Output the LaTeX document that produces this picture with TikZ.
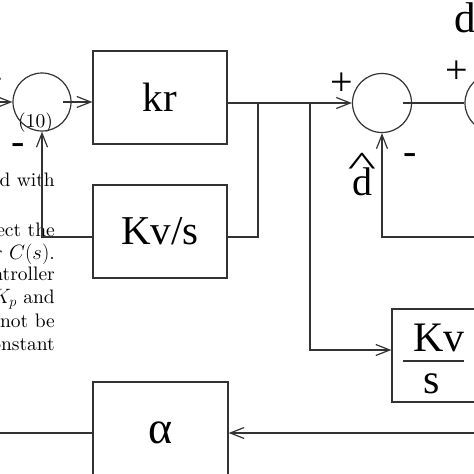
\documentclass[tikz,border=0pt]{standalone}
\usepackage{fontspec}
\newfontfamily\tnr{Liberation Serif}
\newfontfamily\bodyf{lmroman10-regular}[Extension=.otf]
\usetikzlibrary{arrows.meta}
\definecolor{linec}{HTML}{333333}
\begin{document}
\begin{tikzpicture}[x=1pt,y=-1pt,
  wire/.style={draw=linec,line width=1.2pt},
  arr/.style={wire,-{Straight Barb[length=14pt,width=11pt]}},
  blk/.style={draw=linec,line width=1.2pt,rectangle,inner sep=0pt,minimum width=134pt,minimum height=93pt,font=\tnr\fontsize{41}{41}\selectfont},
  junc/.style={draw=linec,line width=1.2pt,circle,inner sep=0pt,minimum size=58pt},
  sgn/.style={inner sep=0pt,anchor=base,font=\tnr\fontsize{40}{40}\selectfont},
  body/.style={inner sep=0pt,anchor=base east,font=\bodyf\fontsize{19.5}{23}\selectfont}]
\useasboundingbox (0,0) rectangle (474,474);
\clip (0,0) rectangle (474,474);

% body text of the page behind the figure
\node[body] (t1) at (55,186) {obtained with};
\node[body] (t2) at (55,236) {to affect the};
\node[body] (t3) at (55,259) {controller $C(s)$.};
\node[body] (t4) at (55,280) {the controller};
\node[body] (t5) at (55,303) {$K_p$ and};
\node[body] (t6) at (55,327) {can not be};
\node[body] (t7) at (55,350) {constant};
\node[body,anchor=base] (eq) at (35.5,127) {(10)};

% blocks
\node[junc] (s1) at (42,102) {};
\node[blk] (kr) at (160,97.5) {kr};
\node[blk] (kvs) at (160,231.5) {Kv/s};
\node[junc,minimum size=59pt] (s2) at (382,103) {};
\node[junc] (s3) at (494,103) {};
\node[blk,minimum width=128pt] (fr) at (456,355.5) {};
\node[blk,minimum width=135pt,minimum height=102pt,font=\tnr\fontsize{46}{46}\selectfont] (al) at (160.5,433) {α};

% fraction inside the Kv/s box
\node[sgn,font=\tnr\fontsize{42}{42}\selectfont] (kvn) at (439,351) {Kv};
\node[sgn,font=\tnr\fontsize{42}{42}\selectfont] (kvd) at (432,393) {s};
\coordinate (barl) at (403,361);
\coordinate (barr) at (464,361);
\draw[wire] (barl) -- (barr);

% signs and labels
\node[sgn] (p1) at (-8,92) {+};
\node[sgn] (m1) at (18,154) {-};
\node[sgn] (p2) at (342,95) {+};
\node[sgn] (m2) at (410,164) {-};
\node[sgn] (p3) at (457,83) {+};
\node[sgn,anchor=base west,font=\tnr\fontsize{43}{43}\selectfont] (dd) at (454,32) {d};
\node[sgn] (dh) at (362,195) {\ooalign{d\cr\hidewidth\raisebox{0.5em}{\scalebox{1.5}[0.85]{\textasciicircum}}\hidewidth\cr}};

% connectors
\coordinate (in1) at (-5,102);
\draw[arr] (in1) -- (s1.west);
\coordinate (s1o) at (63,102);
\draw[arr] (s1o) -- (s1o -| kr.west);
\coordinate (j1) at (42,237);
\draw[arr] (kvs.west |- j1) -- (j1) -- (s1.south);
\coordinate (k1) at (258,103);
\coordinate (k2) at (310,103);
\draw[arr] (kr.east |- k1) -- (s2.west);
\draw[wire] (k1) |- (kvs.east |- j1);
\coordinate (f1) at (310,350);
\draw[arr] (k2) |- (fr.west |- f1);
\coordinate (s2o) at (403,103);
\draw[wire] (s2o) -- (s3.west);
\coordinate (fb) at (480,237);
\draw[arr] (fb) -| (s2.south);
\coordinate (b1) at (480,433);
\draw[arr] (b1) -- (al.east);
\coordinate (b0) at (-5,433);
\draw[wire] (al.west) -- (b0);
\end{tikzpicture}
\end{document}
